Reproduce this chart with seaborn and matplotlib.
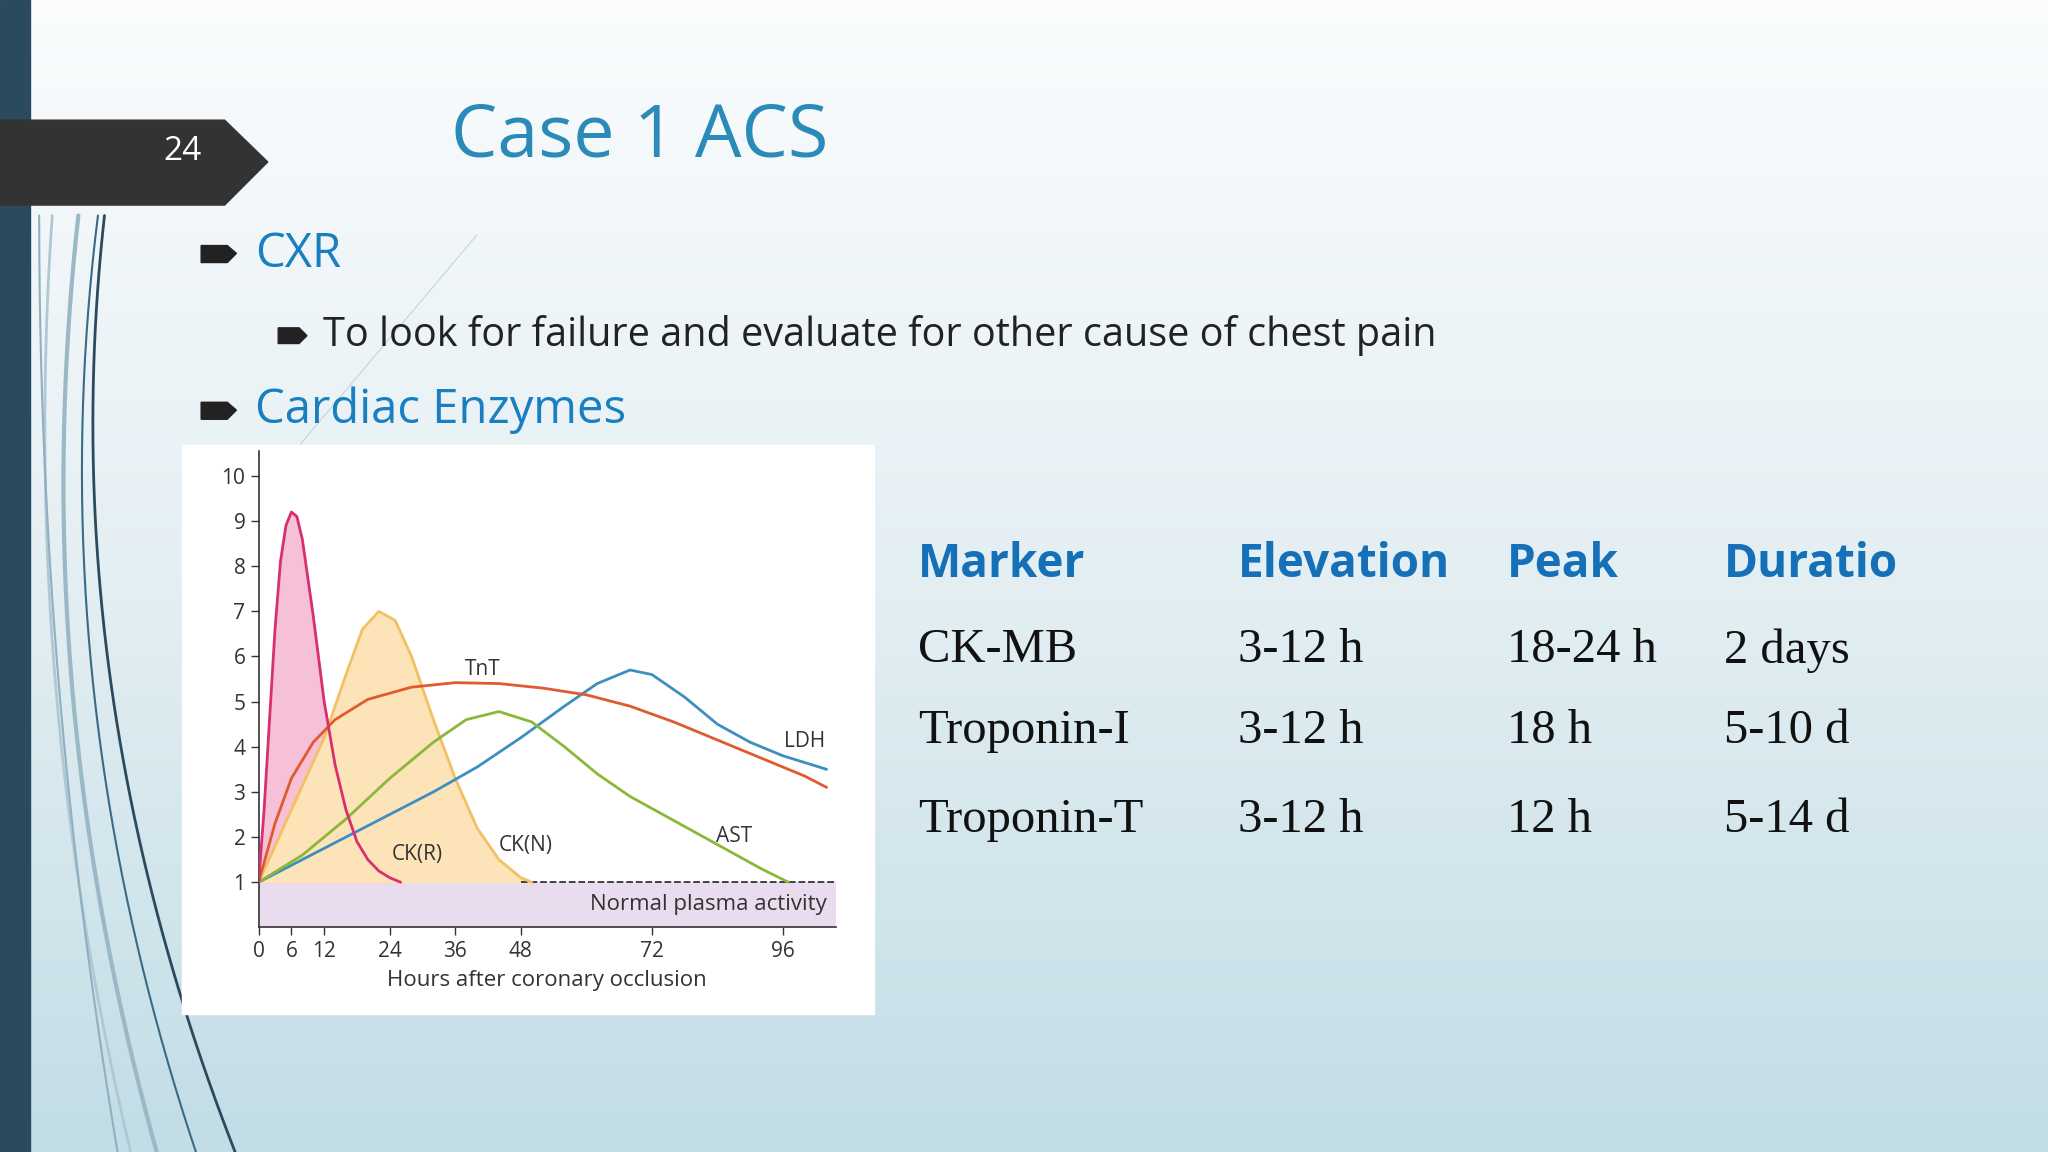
import numpy as np
import pandas as pd
import matplotlib
matplotlib.use("Agg")
import matplotlib.pyplot as plt
import seaborn as sns
from matplotlib.patches import Polygon, Rectangle

sns.set_theme(style="white")
plt.rcParams['font.family'] = ['Open Sans', 'DejaVu Sans']

# ---- data ----
ckr_h = [0, 1, 2, 3, 4, 5, 6, 7, 8, 10, 12, 14, 16, 18, 20, 22, 24, 26]
ckr_v = [1, 2.6, 4.6, 6.6, 8.1, 8.9, 9.2, 9.1, 8.6, 6.9, 5.0, 3.6, 2.6, 1.9, 1.5, 1.25, 1.1, 1.0]
ckn_h = [0, 6, 12, 16, 19, 22, 25, 28, 32, 36, 40, 44, 48, 50]
ckn_v = [1, 2.6, 4.2, 5.6, 6.6, 7.0, 6.8, 6.0, 4.6, 3.3, 2.2, 1.5, 1.1, 1.0]
tnt_h = [0, 3, 6, 10, 14, 20, 28, 36, 44, 52, 60, 68, 76, 84, 92, 100, 104]
tnt_v = [1, 2.3, 3.3, 4.1, 4.6, 5.05, 5.32, 5.42, 5.4, 5.3, 5.15, 4.9, 4.55, 4.15, 3.75, 3.35, 3.1]
ast_h = [0, 8, 16, 24, 32, 38, 44, 50, 56, 62, 68, 74, 80, 86, 92, 97]
ast_v = [1, 1.6, 2.4, 3.3, 4.1, 4.6, 4.78, 4.55, 4.0, 3.4, 2.9, 2.5, 2.1, 1.7, 1.3, 1.0]
ldh_h = [0, 8, 16, 24, 32, 40, 48, 56, 62, 68, 72, 78, 84, 90, 96, 104]
ldh_v = [1, 1.5, 2.0, 2.5, 3.0, 3.55, 4.2, 4.9, 5.4, 5.7, 5.6, 5.1, 4.5, 4.1, 3.8, 3.5]
x_ticks = [0, 6, 12, 24, 36, 48, 72, 96]
y_ticks = list(range(1, 11))

headers = ["Marker", "Elevation", "Peak", "Duratio"]
rows = [["CK-MB", "3-12 h", "18-24 h", "2 days"],
        ["Troponin-I", "3-12 h", "18 h", "5-10 d"],
        ["Troponin-T", "3-12 h", "12 h", "5-14 d"]]

W, H = 1568, 882
fig = plt.figure(figsize=(20.48, 11.52), dpi=100)

# background
bg = fig.add_axes([0, 0, 1, 1])
bg.set_xlim(0, W); bg.set_ylim(H, 0); bg.axis("off")
grad = np.linspace(0, 1, 256)[:, None]
cols = matplotlib.colors.LinearSegmentedColormap.from_list("g", ["#fafcfd", "#e4eff3", "#c2dde6"])
bg.imshow(grad, cmap=cols, extent=[0, W, H, 0], aspect="auto", zorder=0)
bg.add_patch(Rectangle((0, 0), 23, H, color="#2c4a5e", zorder=1))
t = np.linspace(0, 1, 200)
for (x0, x1, x2, c, lw) in [(80, 40, 180, "#2c4a5e", 2), (75, 30, 150, "#3a6a88", 1.5),
                            (60, 20, 120, "#9bb8c6", 3), (40, 15, 100, "#b0c8d4", 2),
                            (30, 30, 90, "#8fb0c0", 1.5)]:
    xs = (1-t)**2*x0 + 2*(1-t)*t*x1 + t**2*x2
    ys = 165 + t*(H-165)
    bg.plot(xs, ys, color=c, lw=lw, zorder=2)
bg.plot([230, 365], [340, 180], color="#c8d4da", lw=0.8, zorder=2)
bg.add_patch(Polygon([[0, 92], [172, 92], [205, 124], [172, 157], [0, 157]], color="#333333", zorder=3))
bg.text(140, 116, "24", color="white", fontsize=24, ha="center", va="center", zorder=4)
bg.text(345, 105, "Case 1 ACS", color="#2a8ab8", fontsize=53, va="center")
bg.add_patch(Polygon([[154, 188], [174, 188], [181, 194], [174, 201], [154, 201]], color="#222", zorder=3))
bg.text(195, 195, "CXR", color="#1a7fc0", fontsize=34, va="center")
bg.add_patch(Polygon([[213, 251], [229, 251], [235, 257], [229, 263], [213, 263]], color="#222", zorder=3))
bg.text(247, 257, "To look for failure and evaluate for other cause of chest pain", color="#222", fontsize=28.5, va="center")
bg.add_patch(Polygon([[154, 308], [174, 308], [181, 314], [174, 321], [154, 321]], color="#222", zorder=3))
bg.text(195, 314, "Cardiac Enzymes", color="#1a7fc0", fontsize=34, va="center")
bg.add_patch(Rectangle((139, 341), 530, 435, color="white", zorder=3))

xs_col = [703, 948, 1154, 1320]
for x, h in zip(xs_col, headers):
    bg.text(x, 432, h, color="#1570b8", fontsize=33, fontweight="bold", va="center")
for y, r in zip([498, 560, 628], rows):
    for x, v in zip(xs_col, r):
        bg.text(x, y, v, color="#111", fontsize=35, va="center", family="Liberation Serif")

# chart
ax = fig.add_axes([198/W, 1-710/H, (640-198)/W, (710-345)/H])
ax.set_facecolor("white")
ax.set_xlim(0, 105.7); ax.set_ylim(0, 10.56)
ax.axhspan(0, 1, color="#e8dcee", zorder=0)
ax.plot([48, 105.7], [1, 1], ls="--", color="#333", lw=1.3)
ax.fill_between(ckr_h, 1, ckr_v, color="#f6c0d6", zorder=1)
ax.fill_between(ckn_h, 1, ckn_v, color="#fde3b8", zorder=1)
for h, v, c in [(ckn_h, ckn_v, "#f3c063"), (ldh_h, ldh_v, "#3d8fc0"), (ast_h, ast_v, "#8ab83a"),
                (tnt_h, tnt_v, "#e05a30"), (ckr_h, ckr_v, "#d63070")]:
    sns.lineplot(x=h, y=v, color=c, lw=2, ax=ax, zorder=3)
ax.set_xticks(x_ticks); ax.set_yticks(y_ticks)
ax.tick_params(axis="both", length=6, width=1, color="#333", labelsize=15, direction="out",
               bottom=True, left=True, labelcolor="#333")
for s in ["top", "right"]:
    ax.spines[s].set_visible(False)
for s in ["left", "bottom"]:
    ax.spines[s].set_color("#333"); ax.spines[s].set_linewidth(1.2)
ax.set_xlabel("Hours after coronary occlusion", fontsize=16, color="#333", labelpad=6)
ax.set_ylabel("")
lab = dict(fontsize=15, color="#333")
ax.text(41, 5.6, "TnT", ha="center", **lab)
ax.text(29, 1.5, "CK(R)", ha="center", **lab)
ax.text(49, 1.7, "CK(N)", ha="center", **lab)
ax.text(87, 1.9, "AST", ha="center", **lab)
ax.text(100, 4.0, "LDH", ha="center", **lab)
ax.text(104, 0.5, "Normal plasma activity", ha="right", va="center", fontsize=16, color="#333")

fig.savefig("out.png", dpi=100)
